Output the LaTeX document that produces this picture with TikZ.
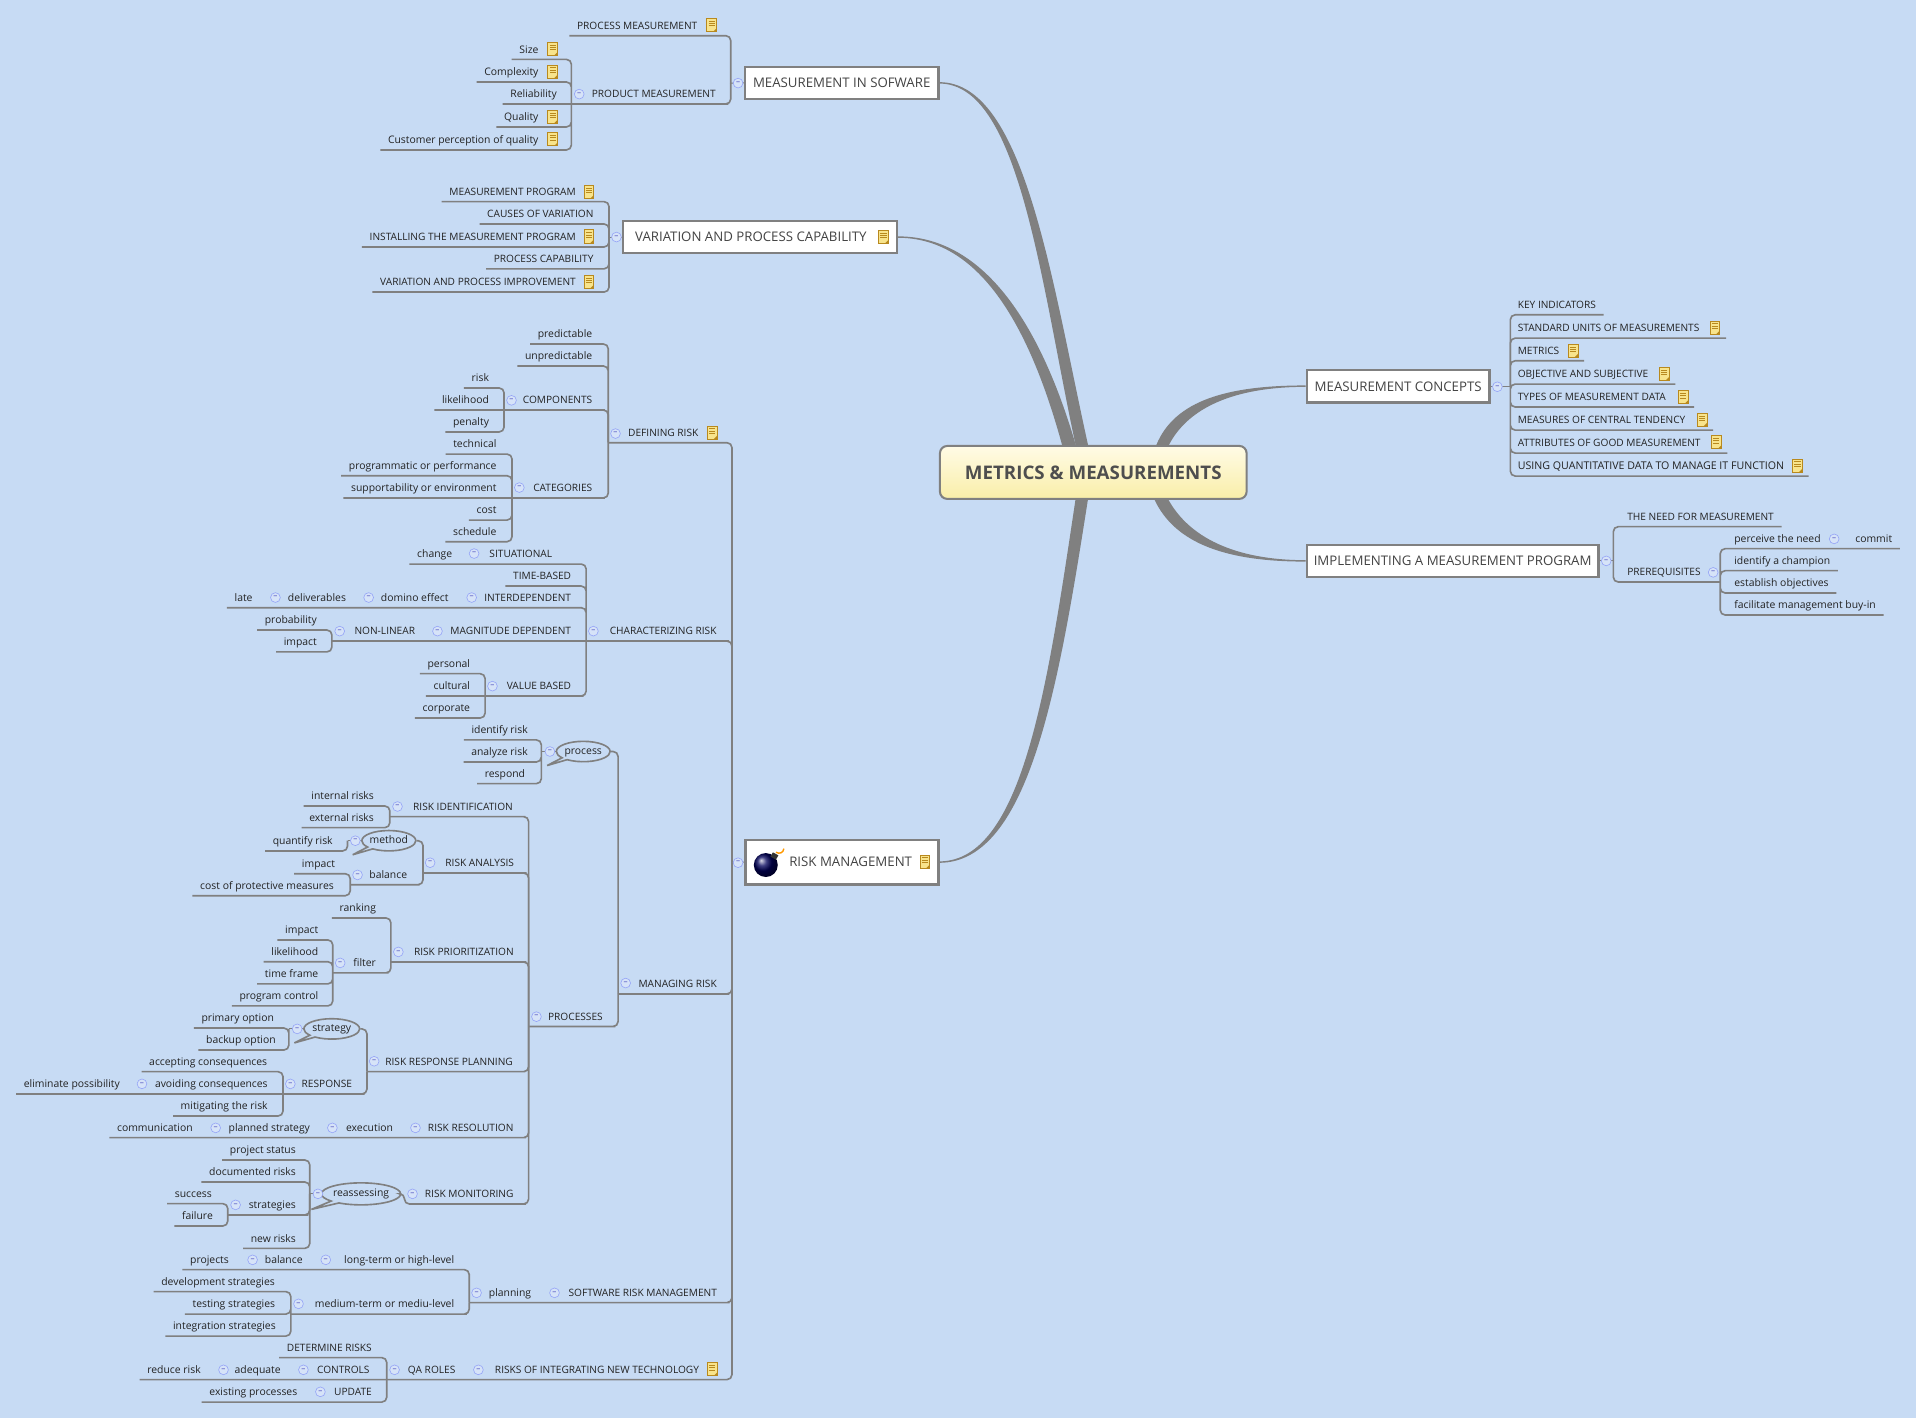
\documentclass[tikz,border=0pt]{standalone}
\usepackage{fontspec}
\setmainfont{Open Sans}
\usetikzlibrary{shapes.callouts,backgrounds}
\definecolor{paper}{HTML}{C7DBF4}
\definecolor{wire}{HTML}{808080}
\definecolor{ink}{HTML}{222222}
\definecolor{noteyellow}{HTML}{F8E48C}
\definecolor{notegold}{HTML}{B8891E}
\definecolor{foldblue}{HTML}{D6E3F8}
\definecolor{hubtop}{HTML}{FFFBE6}
\definecolor{hubbottom}{HTML}{F9EEA8}
\tikzset{
  link/.style={draw=wire,line width=.8pt,rounded corners=2.4pt},
  stub/.style={draw=wire,line width=.5pt},
  spoke/.style={draw=wire,fill=wire,line width=.7pt},
  leaf/.style={anchor=south east,inner xsep=3.6pt,inner ysep=0pt,minimum height=10.2pt,
    text height=5.4pt,text depth=1pt,text=ink,font=\fontsize{5.1}{6}\selectfont},
  cleaf/.style={leaf,font=\fontsize{4.98}{6}\selectfont},
  rleaf/.style={leaf,anchor=south west},
  rcleaf/.style={cleaf,anchor=south west},
  panel/.style={draw=wire,fill=white,line width=1.1pt,inner sep=0pt,text=ink!85,
    text height=5.4pt,text depth=.6pt,font=\fontsize{6.5}{8}\selectfont},
  hub/.style={draw=wire,line width=1pt,rounded corners=3.6pt,top color=hubtop,
    bottom color=hubbottom,minimum width=150.6pt,minimum height=26pt,
    text=ink!80,font=\bfseries\fontsize{9.2}{11}\selectfont},
  bubble/.style={ellipse callout,draw=wire,line width=.8pt,inner sep=0pt,text=ink,
    text height=4pt,text depth=1pt,font=\fontsize{5.1}{6}\selectfont},
  fold/.style={circle,fill=foldblue,draw=blue!25!paper,line width=.3pt,inner sep=0pt,
    minimum size=4.8pt,text=blue!45!gray,font=\fontsize{4}{4}\selectfont},
  notemark/.style={rectangle,draw=notegold,fill=noteyellow,line width=.45pt,inner sep=0pt,
    minimum width=4.8pt,minimum height=6.4pt,path picture={
      \draw[notegold,line width=.25pt]
        ([xshift=.9pt,yshift=-1.3pt]path picture bounding box.north west) -- ++(3pt,0)
        ([xshift=.9pt,yshift=-2.4pt]path picture bounding box.north west) -- ++(3pt,0)
        ([xshift=.9pt,yshift=-3.5pt]path picture bounding box.north west) -- ++(3pt,0);
      \fill[notegold] (path picture bounding box.south east) -- ++(-1.7pt,0) -- ++(1.7pt,1.7pt) -- cycle;
    }},
}
\begin{document}
\begin{tikzpicture}[x=.6pt,y=-.6pt]
  \useasboundingbox (0,0) rectangle (1568,1160.45);

  % centre and main boxes
  \node[hub] (metrics) at (894.7,386.6) {METRICS \& MEASUREMENTS};
  \node[panel,minimum width=95pt,minimum height=15.8pt] (sofware) at (688.8,67.8) {MEASUREMENT IN SOFWARE};
  \node[panel,minimum width=134.6pt,minimum height=16pt] (variation) at (621.8,194) {VARIATION AND PROCESS CAPABILITY\hspace*{8.8pt}};
  \node[panel,minimum width=94.8pt,minimum height=22pt] (riskbox) at (689,705.5) {\hspace*{8.6pt}RISK MANAGEMENT};
  \node[panel,minimum width=89.7pt,minimum height=16pt] (concepts) at (1144.2,316) {MEASUREMENT CONCEPTS};
  \node[panel,minimum width=143.3pt,minimum height=15.7pt] (implementing) at (1188.8,459) {IMPLEMENTING A MEASUREMENT PROGRAM};

  \begin{scope}[on background layer]
    \fill[paper] (0,0) rectangle (1568,1160.45);
    \coordinate (rootA) at (881,365);
    \coordinate (rootB) at (890,365);
    \coordinate (rootC) at (870,365);
    \coordinate (rootD) at (880,365);
    \coordinate (rootE) at (947,364);
    \coordinate (rootF) at (956,364);
    \coordinate (rootG) at (945,408);
    \coordinate (rootH) at (955,408);
    \coordinate (rootI) at (881,407);
    \coordinate (rootJ) at (890,407);
    \path[spoke] (sofware.east) .. controls (835,68) and (852,230) .. (rootA) -- (rootB) .. controls (860,230) and (838,68) .. (sofware.east) -- cycle;
    \path[spoke] (variation.east) .. controls (800,194) and (842,262) .. (rootC) -- (rootD) .. controls (850,262) and (803,194) .. (variation.east) -- cycle;
    \path[spoke] (riskbox.east) .. controls (838,705) and (858,560) .. (rootI) -- (rootJ) .. controls (866,560) and (842,705) .. (riskbox.east) -- cycle;
    \path[spoke] (concepts.west) .. controls (1005,316) and (962,328) .. (rootE) -- (rootF) .. controls (972,333) and (1010,316) .. (concepts.west) -- cycle;
    \path[spoke] (implementing.west) .. controls (1005,459) and (962,445) .. (rootG) -- (rootH) .. controls (972,440) and (1010,459) .. (implementing.west) -- cycle;
  \end{scope}

  % bomb
  \shade[ball color=blue!35!black] (626.7,707.9) circle (9.8);
  \fill[black!80] (632.5,697.5) -- (637,700) -- (635,703.5) -- (630.5,701) -- cycle;
  \draw[orange!80!yellow,line width=.7pt] (635,697.5) .. controls (638,699) and (641,698) .. (641.5,694.5);

  % measurement in sofware
  \coordinate (softJ) at (598,68);
  \coordinate (prodJ) at (467.6,85.1);
  \node[cleaf] (procmeas) at (577,29.2) {PROCESS MEASUREMENT};
  \node[cleaf] (prodmeas) at (592,85.1) {PRODUCT MEASUREMENT};
  \node[leaf] (size) at (447,48.6) {Size};
  \node[leaf] (complexity) at (447,67.1) {Complexity};
  \node[leaf] (reliability) at (462,85.1) {Reliability};
  \node[leaf] (quality) at (447,103.9) {Quality};
  \node[leaf] (customer) at (447,122.7) {Customer perception of quality};
  \draw[link] (procmeas.south west) -| (softJ);
  \draw[link] (reliability.south west) -- (prodmeas.south east) -| (softJ);
  \draw[link] (size.south west) -| (prodJ) (complexity.south west) -| (prodJ) (quality.south west) -| (prodJ) (customer.south west) -| (prodJ);
  \draw[stub] (softJ) -- (sofware.west);
  \node[fold] (fsofware) at (604,68) {--};
  \node[fold] (fprodmeas) at (474,77) {--};
  \node[notemark] (nprocmeas) at (582.5,20.5) {};
  \node[notemark] (nsize) at (452.4,40) {};
  \node[notemark] (ncomplexity) at (452.4,58.5) {};
  \node[notemark] (nquality) at (452.4,95.5) {};
  \node[notemark] (ncustomer) at (452.4,114) {};

  % variation and process capability
  \coordinate (varJ) at (498.4,194);
  \node[cleaf] (mprogram) at (477.5,165) {MEASUREMENT PROGRAM};
  \node[cleaf] (causes) at (492,183.3) {CAUSES OF VARIATION};
  \node[cleaf] (installing) at (477.5,202.1) {INSTALLING THE MEASUREMENT PROGRAM};
  \node[cleaf] (capability) at (492,220) {PROCESS CAPABILITY};
  \node[cleaf] (improvement) at (477.5,239) {VARIATION AND PROCESS IMPROVEMENT};
  \draw[link] (mprogram.south west) -| (varJ) (causes.south west) -| (varJ) (installing.south west) -| (varJ) (capability.south west) -| (varJ) (improvement.south west) -| (varJ);
  \draw[stub] (varJ) -- (variation.west);
  \node[fold] (fvariation) at (504.5,194) {--};
  \node[notemark] (nvariation) at (723,194) {};
  \node[notemark] (nmprogram) at (482,157) {};
  \node[notemark] (ninstalling) at (482,193.5) {};
  \node[notemark] (nimprovement) at (482,230.5) {};

  % risk management, defining risk
  \coordinate (riskJ) at (599,706);
  \coordinate (defJ) at (497.8,362.3);
  \coordinate (compJ) at (412.5,335.5);
  \coordinate (catJ) at (419,407.5);
  \node[cleaf] (defining) at (577.8,362.3) {DEFINING RISK};
  \node[leaf] (predictable) at (491,281.5) {predictable};
  \node[leaf] (unpredictable) at (491,299.5) {unpredictable};
  \node[cleaf] (components) at (491,335.5) {COMPONENTS};
  \node[leaf] (risk) at (406.5,317.5) {risk};
  \node[leaf] (likelihood) at (406.5,335.5) {likelihood};
  \node[leaf] (penalty) at (406.5,353.5) {penalty};
  \node[cleaf] (categories) at (491,407.5) {CATEGORIES};
  \node[leaf] (technical) at (412.6,371.6) {technical};
  \node[leaf] (programmatic) at (412.6,389.3) {programmatic or performance};
  \node[leaf] (supportability) at (412.6,407.5) {supportability or environment};
  \node[leaf] (cost) at (412.6,425.6) {cost};
  \node[leaf] (schedule) at (412.6,443.3) {schedule};
  \draw[link] (defJ) -- (defining.south east) -| (riskJ);
  \draw[link] (predictable.south west) -| (defJ) (unpredictable.south west) -| (defJ);
  \draw[link] (likelihood.south west) -- (components.south east) -| (defJ);
  \draw[link] (supportability.south west) -- (categories.south east) -| (defJ);
  \draw[link] (risk.south west) -| (compJ) (penalty.south west) -| (compJ);
  \draw[link] (technical.south west) -| (catJ) (programmatic.south west) -| (catJ) (cost.south west) -| (catJ) (schedule.south west) -| (catJ);
  \node[fold] (fdefining) at (503.7,354.8) {--};
  \node[fold] (fcomponents) at (418.6,327.6) {--};
  \node[fold] (fcategories) at (425,399) {--};
  \node[notemark] (ndefining) at (583,354) {};

  % characterizing risk
  \coordinate (charJ) at (479.7,524.6);
  \coordinate (nonJ) at (271.6,524.6);
  \coordinate (valJ) at (397,569.6);
  \node[cleaf] (characterizing) at (592.7,524.6) {CHARACTERIZING RISK};
  \node[cleaf] (situational) at (458.2,461.6) {SITUATIONAL};
  \node[leaf] (change) at (376.4,461.6) {change};
  \node[cleaf] (timebased) at (473.7,479.6) {TIME-BASED};
  \node[cleaf] (interdependent) at (473.7,497.3) {INTERDEPENDENT};
  \node[leaf] (domino) at (373.4,497.3) {domino effect};
  \node[leaf] (deliverables) at (289.5,497.3) {deliverables};
  \node[leaf] (late) at (213,497.3) {late};
  \node[cleaf] (magnitude) at (473.7,524.6) {MAGNITUDE DEPENDENT};
  \node[cleaf] (nonlinear) at (346,524.6) {NON-LINEAR};
  \node[leaf] (probability) at (265.6,515.6) {probability};
  \node[leaf] (impactA) at (265.6,533.5) {impact};
  \node[cleaf] (valuebased) at (473.7,569.6) {VALUE BASED};
  \node[leaf] (personal) at (391,551.3) {personal};
  \node[leaf] (cultural) at (391,569.6) {cultural};
  \node[leaf] (corporate) at (391,587.6) {corporate};
  \draw[link] (nonJ) -- (characterizing.south east) -| (riskJ);
  \draw[link] (change.south west) -| (charJ) (timebased.south west) -| (charJ) (late.south west) -| (charJ);
  \draw[link] (cultural.south west) -- (valuebased.south east) -| (charJ);
  \draw[link] (probability.south west) -| (nonJ) (impactA.south west) -| (nonJ);
  \draw[link] (personal.south west) -| (valJ) (corporate.south west) -| (valJ);
  \node[fold] (fcharacterizing) at (485.6,516.5) {--};
  \node[fold] (fsituational) at (388,453) {--};
  \node[fold] (finterdependent) at (386,489) {--};
  \node[fold] (fdomino) at (301.7,489) {--};
  \node[fold] (fdeliverables) at (225.4,489) {--};
  \node[fold] (fmagnitude) at (358,516.5) {--};
  \node[fold] (fnonlinear) at (278,516.5) {--};
  \node[fold] (fvaluebased) at (403,561.5) {--};

  % managing risk
  \coordinate (manJ) at (505.8,813.4);
  \coordinate (procJ) at (443,615);
  \coordinate (prcsJ) at (432.6,840);
  \node[cleaf] (managing) at (592.9,813.4) {MANAGING RISK};
  \node[bubble,minimum width=26.4pt,minimum height=10pt,callout relative pointer={(-8.5pt,-3.3pt)}] (process) at (477.3,615) {process};
  \node[leaf] (identify) at (438.2,605.5) {identify risk};
  \node[leaf] (analyze) at (438.2,623.6) {analyze risk};
  \node[leaf] (respond) at (436,641.3) {respond};
  \node[cleaf] (processes) at (499.6,840) {PROCESSES};
  \draw[link] (manJ) -- (managing.south east) -| (riskJ);
  \draw[link] (process.east) -| (manJ);
  \draw[link] (prcsJ) -- (processes.south east) -| (manJ);
  \draw[stub] (procJ) -- (process.west);
  \draw[link] (identify.south west) -| (procJ) (analyze.south west) -| (procJ) (respond.south west) -| (procJ);
  \node[fold] (fmanaging) at (512,804.5) {--};
  \node[fold] (fprocess) at (450,615) {--};
  \node[fold] (fprocesses) at (439,832) {--};

  % risk identification, analysis, prioritization
  \coordinate (ridJ) at (319,668.3);
  \coordinate (ranJ) at (346.2,714.4);
  \coordinate (methJ) at (284.4,688);
  \coordinate (balJ) at (286.6,724);
  \coordinate (priJ) at (319.9,787.2);
  \coordinate (filJ) at (272.3,796.2);
  \node[cleaf] (identification) at (426,668.3) {RISK IDENTIFICATION};
  \node[leaf] (internal) at (312.3,659.6) {internal risks};
  \node[leaf] (external) at (312.3,677.3) {external risks};
  \node[cleaf] (analysis) at (427,714.4) {RISK ANALYSIS};
  \node[bubble,minimum width=26.4pt,minimum height=10pt,callout relative pointer={(-8.5pt,-3.3pt)}] (method) at (318.2,688) {method};
  \node[leaf] (quantify) at (278.6,696.4) {quantify risk};
  \node[leaf] (balance) at (339.5,724) {balance};
  \node[leaf] (impactB) at (280.5,715) {impact};
  \node[leaf] (protective) at (279.5,733) {cost of protective measures};
  \node[cleaf] (prioritization) at (426.7,787.2) {RISK PRIORITIZATION};
  \node[leaf] (ranking) at (314,751.2) {ranking};
  \node[leaf] (filter) at (314,796.2) {filter};
  \node[leaf] (impactC) at (266.8,769.2) {impact};
  \node[leaf] (likelihoodB) at (266.8,787) {likelihood};
  \node[leaf] (timeframe) at (266.8,805.2) {time frame};
  \node[leaf] (control) at (266.8,823.2) {program control};
  \draw[link] (ridJ) -- (identification.south east) -| (prcsJ);
  \draw[link] (internal.south west) -| (ridJ) (external.south west) -| (ridJ);
  \draw[link] (ranJ) -- (analysis.south east) -| (prcsJ);
  \draw[link] (method.east) -| (ranJ);
  \draw[link] (quantify.south west) -| (methJ);
  \draw[stub] (methJ) -- (method.west);
  \draw[link] (balJ) -- (balance.south east) -| (ranJ);
  \draw[link] (impactB.south west) -| (balJ) (protective.south west) -| (balJ);
  \draw[link] (priJ) -- (prioritization.south east) -| (prcsJ);
  \draw[link] (ranking.south west) -| (priJ);
  \draw[link] (filJ) -- (filter.south east) -| (priJ);
  \draw[link] (impactC.south west) -| (filJ) (likelihoodB.south west) -| (filJ) (timeframe.south west) -| (filJ) (control.south west) -| (filJ);
  \node[fold] (fidentification) at (325.3,660) {--};
  \node[fold] (fanalysis) at (352,706) {--};
  \node[fold] (fmethod) at (290.8,688) {--};
  \node[fold] (fbalance) at (292.6,716) {--};
  \node[fold] (fprioritization) at (326,779) {--};
  \node[fold] (ffilter) at (278.4,788) {--};

  % risk response, resolution, monitoring
  \coordinate (planJ) at (300.3,877);
  \coordinate (stratJ) at (236.4,842);
  \coordinate (respJ) at (231.6,895.3);
  \coordinate (monJ) at (331,985.3);
  \coordinate (reasJ) at (253.5,977);
  \coordinate (stratsJ) at (186.4,994.3);
  \node[cleaf] (planning) at (426,877) {RISK RESPONSE PLANNING};
  \node[bubble,minimum width=27.4pt,minimum height=10pt,callout relative pointer={(-8.8pt,-3.3pt)}] (strategy) at (271.5,842) {strategy};
  \node[leaf] (primary) at (230.5,841.3) {primary option};
  \node[leaf] (backup) at (232,859.3) {backup option};
  \node[cleaf] (response) at (294.4,895.3) {RESPONSE};
  \node[leaf] (accepting) at (225,877) {accepting consequences};
  \node[leaf] (avoiding) at (225.4,895.3) {avoiding consequences};
  \node[leaf] (eliminate) at (104.4,895.3) {eliminate possibility};
  \node[leaf] (mitigating) at (225.4,913.3) {mitigating the risk};
  \node[cleaf] (resolution) at (426.5,931) {RISK RESOLUTION};
  \node[leaf] (execution) at (328,931) {execution};
  \node[leaf] (planned) at (260,931) {planned strategy};
  \node[leaf] (communication) at (164,931) {communication};
  \node[cleaf] (monitoring) at (426.5,985.3) {RISK MONITORING};
  \node[bubble,minimum width=35.7pt,minimum height=10.8pt,callout relative pointer={(-11.5pt,-3.6pt)}] (reassessing) at (295.5,977) {reassessing};
  \node[leaf] (status) at (248.4,949.3) {project status};
  \node[leaf] (documented) at (248.4,967.3) {documented risks};
  \node[leaf] (strategies) at (248.4,994.3) {strategies};
  \node[leaf] (success) at (179.7,985) {success};
  \node[leaf] (failure) at (180.5,1003.3) {failure};
  \node[leaf] (newrisks) at (248.4,1021.6) {new risks};
  \draw[link] (planJ) -- (planning.south east) -| (prcsJ);
  \draw[link] (strategy.east) -| (planJ);
  \draw[link] (primary.south west) -| (stratJ) (backup.south west) -| (stratJ);
  \draw[stub] (stratJ) -- (strategy.west);
  \draw[link] (eliminate.south west) -- (response.south east) -| (planJ);
  \draw[link] (accepting.south west) -| (respJ) (mitigating.south west) -| (respJ);
  \draw[link] (communication.south west) -- (resolution.south east) -| (prcsJ);
  \draw[link] (reassessing.east) -| (monJ) -- (monitoring.south east) -| (prcsJ);
  \draw[stub] (reasJ) -- (reassessing.west);
  \draw[link] (status.south west) -| (reasJ) (documented.south west) -| (reasJ) (newrisks.south west) -| (reasJ);
  \draw[link] (stratsJ) -- (strategies.south east) -| (reasJ);
  \draw[link] (success.south west) -| (stratsJ) (failure.south west) -| (stratsJ);
  \node[fold] (fplanning) at (306.2,868.5) {--};
  \node[fold] (fstrategy) at (243.2,842) {--};
  \node[fold] (fresponse) at (237.6,887) {--};
  \node[fold] (favoiding) at (116.2,887) {--};
  \node[fold] (fresolution) at (340,923) {--};
  \node[fold] (fexecution) at (272,923) {--};
  \node[fold] (fplanned) at (176.5,923) {--};
  \node[fold] (fmonitoring) at (337.6,977) {--};
  \node[fold] (freassessing) at (260.2,977) {--};
  \node[fold] (fstrategies) at (192.8,986) {--};

  % software risk management
  \coordinate (softrJ) at (384,1066);
  \coordinate (medJ) at (238,1075.4);
  \node[cleaf] (softwarerisk) at (593,1066) {SOFTWARE RISK MANAGEMENT};
  \node[leaf] (planningB) at (441,1066) {planning};
  \node[leaf] (longterm) at (378,1039) {long-term or high-level};
  \node[leaf] (balanceB) at (254,1039) {balance};
  \node[leaf] (projects) at (193.6,1039) {projects};
  \node[leaf] (mediumterm) at (378,1075.4) {medium-term or mediu-level};
  \node[leaf] (development) at (231.3,1057) {development strategies};
  \node[leaf] (testing) at (231.5,1075.4) {testing strategies};
  \node[leaf] (integration) at (232,1093.4) {integration strategies};
  \draw[link] (softrJ) -- (softwarerisk.south east) -| (riskJ);
  \draw[link] (projects.south west) -| (softrJ);
  \draw[link] (medJ) -- (mediumterm.south east) -| (softrJ);
  \draw[link] (development.south west) -| (medJ) (testing.south west) -| (medJ) (integration.south west) -| (medJ);
  \node[fold] (fsoftwarerisk) at (453.8,1058) {--};
  \node[fold] (fplanningB) at (390,1058) {--};
  \node[fold] (flongterm) at (266.6,1031) {--};
  \node[fold] (fbalanceB) at (206.7,1031) {--};
  \node[fold] (fmediumterm) at (244.3,1067) {--};

  % risks of integrating new technology
  \coordinate (qaJ) at (316.5,1129);
  \node[cleaf] (integrating) at (578.4,1129) {RISKS OF INTEGRATING NEW TECHNOLOGY};
  \node[cleaf] (qaroles) at (379,1129) {QA ROLES};
  \node[cleaf] (determine) at (310.6,1111) {DETERMINE RISKS};
  \node[cleaf] (controls) at (308.7,1129) {CONTROLS};
  \node[leaf] (adequate) at (236,1129) {adequate};
  \node[leaf] (reducerisk) at (170.6,1129) {reduce risk};
  \node[cleaf] (update) at (310.6,1147.4) {UPDATE};
  \node[leaf] (existing) at (249.6,1147.4) {existing processes};
  \draw[link] (reducerisk.south west) -- (integrating.south east) -| (riskJ);
  \draw[link] (determine.south west) -| (qaJ) (existing.south west) -| (qaJ);
  \draw[stub] (riskJ) -- (riskbox.west);
  \node[fold] (friskbox) at (604,706) {--};
  \node[fold] (fintegrating) at (391.5,1121) {--};
  \node[fold] (fqaroles) at (322.9,1121) {--};
  \node[fold] (fcontrols) at (248.3,1121) {--};
  \node[fold] (fadequate) at (182.9,1121) {--};
  \node[fold] (fupdate) at (262.2,1139) {--};
  \node[notemark] (nriskbox) at (757,705) {};
  \node[notemark] (nintegrating) at (583,1120.5) {};

  % measurement concepts
  \coordinate (conceptJ) at (1236,316);
  \coordinate (standardE) at (1412.5,276.7);
  \coordinate (metricsE) at (1296.4,295.2);
  \coordinate (objectiveE) at (1371,314.3);
  \coordinate (typesE) at (1386.5,333.1);
  \coordinate (measuresE) at (1402,352);
  \coordinate (attributesE) at (1413.6,370.8);
  \coordinate (usingE) at (1480,389.6);
  \node[rcleaf] (indicators) at (1235.8,257.6) {KEY INDICATORS};
  \node[rcleaf] (standard) at (1235.8,276.7) {STANDARD UNITS OF MEASUREMENTS};
  \node[rcleaf] (metricsB) at (1235.8,295.2) {METRICS};
  \node[rcleaf] (objective) at (1235.8,314.3) {OBJECTIVE AND SUBJECTIVE};
  \node[rcleaf] (types) at (1235.8,333.1) {TYPES OF MEASUREMENT DATA};
  \node[rcleaf] (measures) at (1235.8,352) {MEASURES OF CENTRAL TENDENCY};
  \node[rcleaf] (attributes) at (1235.8,370.8) {ATTRIBUTES OF GOOD MEASUREMENT};
  \node[rcleaf,font=\fontsize{5.22}{6}\selectfont] (using) at (1235.8,389.6) {USING QUANTITATIVE DATA TO MANAGE IT FUNCTION};
  \draw[link] (conceptJ) |- (indicators.south east);
  \draw[link] (conceptJ) |- (standardE) (conceptJ) |- (metricsE) (conceptJ) |- (objectiveE) (conceptJ) |- (typesE) (conceptJ) |- (measuresE) (conceptJ) |- (attributesE) (conceptJ) |- (usingE);
  \draw[stub] (concepts.east) -- (conceptJ);
  \node[fold] (fconcepts) at (1225.4,316.5) {--};
  \node[notemark] (nstandard) at (1403.5,268) {};
  \node[notemark] (nmetrics) at (1287.4,287) {};
  \node[notemark] (nobjective) at (1362,306) {};
  \node[notemark] (ntypes) at (1377.5,325) {};
  \node[notemark] (nmeasures) at (1393,343.5) {};
  \node[notemark] (nattributes) at (1404.5,362) {};
  \node[notemark] (nusing) at (1471,381) {};

  % implementing a measurement program
  \coordinate (implJ) at (1320.3,459);
  \coordinate (preJ) at (1407.8,476.3);
  \node[rcleaf] (need) at (1325.4,431) {THE NEED FOR MEASUREMENT};
  \node[rcleaf] (prerequisites) at (1325.4,476.3) {PREREQUISITES};
  \node[rleaf] (perceive) at (1413,449) {perceive the need};
  \node[rleaf] (commit) at (1512,449) {commit};
  \node[rleaf] (champion) at (1413,467) {identify a champion};
  \node[rleaf] (objectives) at (1413,485.3) {establish objectives};
  \node[rleaf] (buyin) at (1413,503.3) {facilitate management buy-in};
  \draw[link] (implJ) |- (need.south east);
  \draw[link] (implJ) |- (preJ);
  \draw[link] (preJ) |- (commit.south east) (preJ) |- (champion.south east) (preJ) |- (objectives.south east) (preJ) |- (buyin.south east);
  \draw[stub] (implementing.east) -- (implJ);
  \node[fold] (fimplementing) at (1314.5,459) {--};
  \node[fold] (fprerequisites) at (1402,468.4) {--};
  \node[fold] (fperceive) at (1501,441) {--};
\end{tikzpicture}
\end{document}
